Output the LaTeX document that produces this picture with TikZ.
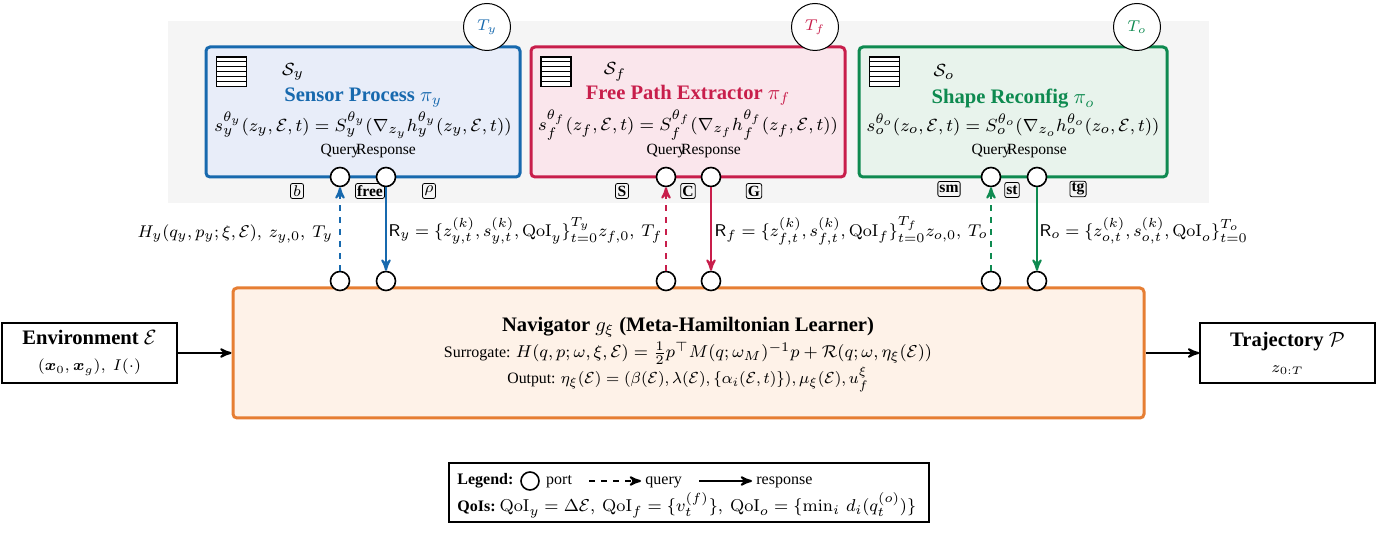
\documentclass[tikz,border=0pt]{standalone}
\usepackage{fix-cm}
\usepackage{amsmath}
\usepackage{amssymb}
\usepackage[no-math]{fontspec}
\setmainfont{Liberation Serif}
\usepackage{tikz}
\usetikzlibrary{arrows,positioning}

\DeclareMathSizes{8.8}{8.8}{6.9}{5.4}
\DeclareMathSizes{8.05}{8.5}{6.6}{5.3}
\DeclareMathSizes{8}{8.6}{6.6}{5.2}
\DeclareMathSizes{7.9}{8}{6.2}{5}

\definecolor{sensorblue}{HTML}{1769AE}
\definecolor{sensorfill}{HTML}{E8EDF9}
\definecolor{pathred}{HTML}{C81E4B}
\definecolor{pathfill}{HTML}{FAE6EC}
\definecolor{shapegreen}{HTML}{0E8A50}
\definecolor{shapefill}{HTML}{E8F3EC}
\definecolor{navorange}{HTML}{E67E33}
\definecolor{navfill}{HTML}{FEF2E8}

\tikzset{
	module/.style={draw,line width=1.5pt,rounded corners=2pt,minimum height=65pt,inner sep=0pt},
	port/.style={circle,draw=black,fill=white,line width=.8pt,minimum size=9.5pt,inner sep=0pt},
	timer/.style={circle,draw=black,fill=white,line width=.5pt,minimum size=23.5pt,inner sep=0pt,font=\fontsize{7.8}{10}\selectfont},
	plain/.style={draw=black,line width=.8pt,fill=white,minimum width=87.5pt,minimum height=30pt,inner sep=0pt,align=center},
	tag/.style={draw=black,line width=.4pt,rounded corners=1pt,inner sep=.8pt,minimum height=7.5pt,minimum width=6.5pt,font=\fontsize{7.8}{8}\selectfont\bfseries},
	stack/.style={draw=black,fill=white,line width=.6pt,minimum width=15pt,minimum height=14.7pt,inner sep=0pt,
		path picture={\foreach \d in {-4.9,-2.45,0,2.45,4.9}
			\draw[line width=.6pt] ([yshift=\d pt]path picture bounding box.west) -- ([yshift=\d pt]path picture bounding box.east);}},
	query/.style={->,dashed,line width=1pt},
	response/.style={->,line width=1pt},
	title/.style={font=\fontsize{10.3}{12}\selectfont\bfseries},
	eqn/.style={font=\fontsize{8.8}{10}\selectfont},
	small/.style={font=\fontsize{7.8}{8}\selectfont},
	chan/.style={font=\fontsize{8.05}{9}\selectfont},
	legtext/.style={font=\fontsize{8}{9}\selectfont,text height=5pt,text depth=1.5pt,inner sep=2pt}
}

\begin{document}
\begin{tikzpicture}[x=.5pt,y=-.5pt,>=stealth']
	\useasboundingbox (0,0) rectangle (1377,533);
	\fill[black!4] (168,21) rectangle (1209,203);

	% modules
	\node[module,draw=sensorblue,fill=sensorfill,minimum width=157pt] (Sensor) at (363,112) {};
	\node[module,draw=pathred,fill=pathfill,minimum width=157pt] (Path) at (688,112) {};
	\node[module,draw=shapegreen,fill=shapefill,minimum width=154pt] (Shape) at (1013,112) {};

	\node[timer,text=sensorblue] (Ty) at (487,27) {$T_y$};
	\node[timer,text=pathred] (Tf) at (815,27) {$T_f$};
	\node[timer,text=shapegreen] (To) at (1137,27) {$T_o$};

	% state stacks
	\node[stack] (Sya) at (231.5,71.7) {};
	\node[stack] (Sfa) at (556,71.7) {};
	\node[stack] (Soa) at (884.5,71.7) {};

	\node[eqn] (Sy) at (293,72) {$\mathcal{S}_y$};
	\node[eqn] (Sf) at (615,72) {$\mathcal{S}_f$};
	\node[eqn] (So) at (944,72) {$\mathcal{S}_o$};

	\node[title,text=sensorblue] (Sname) at (363,98) {Sensor Process $\pi_y$};
	\node[title,text=pathred] (Pname) at (688,95) {Free Path Extractor $\pi_f$};
	\node[title,text=shapegreen] (Oname) at (1013,99) {Shape Reconfig $\pi_o$};

	\node[eqn] (Seq) at (363,125) {$s_y^{\theta_y}(z_y,\mathcal{E},t)=S_y^{\theta_y}(\nabla_{z_y}h_y^{\theta_y}(z_y,\mathcal{E},t))$};
	\node[eqn] (Peq) at (688,125) {$s_f^{\theta_f}(z_f,\mathcal{E},t)=S_f^{\theta_f}(\nabla_{z_f}h_f^{\theta_f}(z_f,\mathcal{E},t))$};
	\node[eqn] (Oeq) at (1013,125) {$s_o^{\theta_o}(z_o,\mathcal{E},t)=S_o^{\theta_o}(\nabla_{z_o}h_o^{\theta_o}(z_o,\mathcal{E},t))$};

	\node[small] (Sq) at (340,151) {Query};
	\node[small] (Sr) at (386,151) {Response};
	\node[small] (Pq) at (666,151) {Query};
	\node[small] (Pr) at (711,151) {Response};
	\node[small] (Oq) at (991,151) {Query};
	\node[small] (Or) at (1037,151) {Response};

	\node[tag] (tb) at (297,191) {$b$};
	\node[tag] (tfree) at (370,191) {free};
	\node[tag] (trho) at (429,191) {$\rho$};
	\node[tag] (tS) at (622,191) {S};
	\node[tag] (tC) at (688,191) {C};
	\node[tag] (tG) at (754,191) {G};
	\node[tag] (tsm) at (949,189) {sm};
	\node[tag] (tst) at (1012,190) {st};
	\node[tag] (ttg) at (1078,189) {tg};

	% navigator and outside boxes
	\node[module,draw=navorange,fill=navfill,minimum width=455.5pt] (Nav) at (688.5,353) {};
	\node[title] (Nname) at (688,327) {Navigator $g_\xi$ (Meta-Hamiltonian Learner)};
	\node[font=\fontsize{8}{9}\selectfont] (Nsur) at (688,353) {Surrogate: $H(q,p;\omega,\xi,\mathcal{E})=\frac{1}{2}p^\top M(q;\omega_M)^{-1}p+\mathcal{R}(q;\omega,\eta_\xi(\mathcal{E}))$};
	\node[font=\fontsize{7.9}{9}\selectfont] (Nout) at (688,379.5) {Output: $\eta_\xi(\mathcal{E})=(\beta(\mathcal{E}),\lambda(\mathcal{E}),\{\alpha_i(\mathcal{E},t)\}),\mu_\xi(\mathcal{E}),u_f^\xi$};

	\node[plain] (Env) at (89.5,353) {{\fontsize{10.3}{12}\selectfont\bfseries Environment $\mathcal{E}$}\\[1pt]{\fontsize{7.8}{8}\selectfont$(\boldsymbol{x}_0,\boldsymbol{x}_g),\ I(\cdot)$}};
	\node[plain] (Traj) at (1287.5,353) {{\fontsize{10.3}{12}\selectfont\bfseries Trajectory $\mathcal{P}$}\\[1pt]{\fontsize{7.8}{8}\selectfont$z_{0:T}$}};
	\draw[->,line width=1pt] (Env) -- (Nav);
	\draw[->,line width=1pt] (Nav) -- (Traj);

	% ports
	\node[port] (SqU) at (340,177) {};
	\node[port] (SrU) at (386,177) {};
	\node[port] (PqU) at (666,177) {};
	\node[port] (PrU) at (711,177) {};
	\node[port] (OqU) at (991,177) {};
	\node[port] (OrU) at (1037,177) {};
	\node[port] (SqL) at (340,281) {};
	\node[port] (SrL) at (386,281) {};
	\node[port] (PqL) at (666,281) {};
	\node[port] (PrL) at (711,281) {};
	\node[port] (OqL) at (991,281) {};
	\node[port] (OrL) at (1037,281) {};

	\draw[query,sensorblue] (SqL) -- (SqU);
	\draw[response,sensorblue] (SrU) -- (SrL);
	\draw[query,pathred] (PqL) -- (PqU);
	\draw[response,pathred] (PrU) -- (PrL);
	\draw[query,shapegreen] (OqL) -- (OqU);
	\draw[response,shapegreen] (OrU) -- (OrL);

	% channel labels
	\node[chan,anchor=east] (Hy) at (339.7,234) {$H_y(q_y,p_y;\xi,\mathcal{E}),\ z_{y,0},\ T_y$};
	\node[chan,anchor=west] (Ry) at (381.5,231) {$\mathsf{R}_y=\{z_{y,t}^{(k)},s_{y,t}^{(k)},\mathrm{QoI}_y\}_{t=0}^{T_y}z_{f,0},\ T_f$};
	\node[chan,anchor=west] (Rf) at (707.5,231) {$\mathsf{R}_f=\{z_{f,t}^{(k)},s_{f,t}^{(k)},\mathrm{QoI}_f\}_{t=0}^{T_f}z_{o,0},\ T_o$};
	\node[chan,anchor=west] (Ro) at (1032.5,231) {$\mathsf{R}_o=\{z_{o,t}^{(k)},s_{o,t}^{(k)},\mathrm{QoI}_o\}_{t=0}^{T_o}$};

	% legend
	\node[draw=black,line width=.7pt,minimum width=240pt,minimum height=29.5pt] (Legend) at (689,492.5) {};
	\node[legtext,anchor=west] (Lname) at (453,481) {\textbf{Legend:}};
	\node[port,minimum size=9pt] (Lport) at (530,481) {};
	\node[legtext,right=1pt of Lport] (Lporttxt) {port};
	\coordinate (LqA) at (589,481);
	\coordinate (LqB) at (641,481);
	\coordinate (LrA) at (699,481);
	\coordinate (LrB) at (752,481);
	\draw[query,black] (LqA) -- (LqB);
	\draw[response,black] (LrA) -- (LrB);
	\node[legtext,right=0pt of LqB] (Lqtxt) {query};
	\node[legtext,right=0pt of LrB] (Lrtxt) {response};
	\node[legtext,anchor=west] (Lqoi) at (453,508) {\textbf{QoIs:}\ $\mathrm{QoI}_y=\Delta\mathcal{E},\ \mathrm{QoI}_f=\{v_t^{(f)}\},\ \mathrm{QoI}_o=\{\min_i\,d_i(q_t^{(o)})\}$};
\end{tikzpicture}
\end{document}
